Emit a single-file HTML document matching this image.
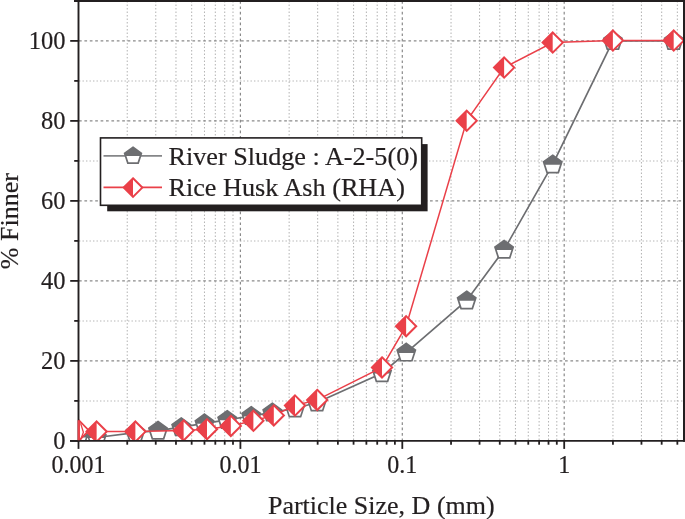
<!DOCTYPE html>
<html><head><meta charset="utf-8"><style>
html,body{margin:0;padding:0;background:#fff;}
body{width:685px;height:519px;overflow:hidden;}
svg{display:block;}
</style></head><body>
<svg width="685" height="519" viewBox="0 0 685 519">
<defs><clipPath id="pc"><rect x="78.5" y="0" width="606" height="440.9"/></clipPath></defs>
<rect width="685" height="519" fill="#fff"/>
<g><line x1="127.24" y1="1" x2="127.24" y2="440" stroke="#b6b6b6" stroke-width="1.05" stroke-dasharray="1.4 2.1"/><line x1="155.75" y1="1" x2="155.75" y2="440" stroke="#b6b6b6" stroke-width="1.05" stroke-dasharray="1.4 2.1"/><line x1="175.97" y1="1" x2="175.97" y2="440" stroke="#b6b6b6" stroke-width="1.05" stroke-dasharray="1.4 2.1"/><line x1="191.66" y1="1" x2="191.66" y2="440" stroke="#b6b6b6" stroke-width="1.05" stroke-dasharray="1.4 2.1"/><line x1="204.48" y1="1" x2="204.48" y2="440" stroke="#b6b6b6" stroke-width="1.05" stroke-dasharray="1.4 2.1"/><line x1="215.32" y1="1" x2="215.32" y2="440" stroke="#b6b6b6" stroke-width="1.05" stroke-dasharray="1.4 2.1"/><line x1="224.71" y1="1" x2="224.71" y2="440" stroke="#b6b6b6" stroke-width="1.05" stroke-dasharray="1.4 2.1"/><line x1="232.99" y1="1" x2="232.99" y2="440" stroke="#b6b6b6" stroke-width="1.05" stroke-dasharray="1.4 2.1"/><line x1="289.14" y1="1" x2="289.14" y2="440" stroke="#b6b6b6" stroke-width="1.05" stroke-dasharray="1.4 2.1"/><line x1="317.65" y1="1" x2="317.65" y2="440" stroke="#b6b6b6" stroke-width="1.05" stroke-dasharray="1.4 2.1"/><line x1="337.87" y1="1" x2="337.87" y2="440" stroke="#b6b6b6" stroke-width="1.05" stroke-dasharray="1.4 2.1"/><line x1="353.56" y1="1" x2="353.56" y2="440" stroke="#b6b6b6" stroke-width="1.05" stroke-dasharray="1.4 2.1"/><line x1="366.38" y1="1" x2="366.38" y2="440" stroke="#b6b6b6" stroke-width="1.05" stroke-dasharray="1.4 2.1"/><line x1="377.22" y1="1" x2="377.22" y2="440" stroke="#b6b6b6" stroke-width="1.05" stroke-dasharray="1.4 2.1"/><line x1="386.61" y1="1" x2="386.61" y2="440" stroke="#b6b6b6" stroke-width="1.05" stroke-dasharray="1.4 2.1"/><line x1="394.89" y1="1" x2="394.89" y2="440" stroke="#b6b6b6" stroke-width="1.05" stroke-dasharray="1.4 2.1"/><line x1="451.04" y1="1" x2="451.04" y2="440" stroke="#b6b6b6" stroke-width="1.05" stroke-dasharray="1.4 2.1"/><line x1="479.55" y1="1" x2="479.55" y2="440" stroke="#b6b6b6" stroke-width="1.05" stroke-dasharray="1.4 2.1"/><line x1="499.77" y1="1" x2="499.77" y2="440" stroke="#b6b6b6" stroke-width="1.05" stroke-dasharray="1.4 2.1"/><line x1="515.46" y1="1" x2="515.46" y2="440" stroke="#b6b6b6" stroke-width="1.05" stroke-dasharray="1.4 2.1"/><line x1="528.28" y1="1" x2="528.28" y2="440" stroke="#b6b6b6" stroke-width="1.05" stroke-dasharray="1.4 2.1"/><line x1="539.12" y1="1" x2="539.12" y2="440" stroke="#b6b6b6" stroke-width="1.05" stroke-dasharray="1.4 2.1"/><line x1="548.51" y1="1" x2="548.51" y2="440" stroke="#b6b6b6" stroke-width="1.05" stroke-dasharray="1.4 2.1"/><line x1="556.79" y1="1" x2="556.79" y2="440" stroke="#b6b6b6" stroke-width="1.05" stroke-dasharray="1.4 2.1"/><line x1="612.94" y1="1" x2="612.94" y2="440" stroke="#b6b6b6" stroke-width="1.05" stroke-dasharray="1.4 2.1"/><line x1="641.45" y1="1" x2="641.45" y2="440" stroke="#b6b6b6" stroke-width="1.05" stroke-dasharray="1.4 2.1"/><line x1="661.67" y1="1" x2="661.67" y2="440" stroke="#b6b6b6" stroke-width="1.05" stroke-dasharray="1.4 2.1"/><line x1="677.36" y1="1" x2="677.36" y2="440" stroke="#b6b6b6" stroke-width="1.05" stroke-dasharray="1.4 2.1"/><line x1="240.40" y1="1" x2="240.40" y2="440" stroke="#8a8a8a" stroke-width="1.2" stroke-dasharray="2.7 2.7"/><line x1="402.30" y1="1" x2="402.30" y2="440" stroke="#8a8a8a" stroke-width="1.2" stroke-dasharray="2.7 2.7"/><line x1="564.20" y1="1" x2="564.20" y2="440" stroke="#8a8a8a" stroke-width="1.2" stroke-dasharray="2.7 2.7"/><line x1="79" y1="400.90" x2="684" y2="400.90" stroke="#b6b6b6" stroke-width="1.05" stroke-dasharray="1.4 2.1"/><line x1="79" y1="320.90" x2="684" y2="320.90" stroke="#b6b6b6" stroke-width="1.05" stroke-dasharray="1.4 2.1"/><line x1="79" y1="240.90" x2="684" y2="240.90" stroke="#b6b6b6" stroke-width="1.05" stroke-dasharray="1.4 2.1"/><line x1="79" y1="160.90" x2="684" y2="160.90" stroke="#b6b6b6" stroke-width="1.05" stroke-dasharray="1.4 2.1"/><line x1="79" y1="80.90" x2="684" y2="80.90" stroke="#b6b6b6" stroke-width="1.05" stroke-dasharray="1.4 2.1"/><line x1="79" y1="360.90" x2="684" y2="360.90" stroke="#8a8a8a" stroke-width="1.2" stroke-dasharray="2.7 2.7"/><line x1="79" y1="280.90" x2="684" y2="280.90" stroke="#8a8a8a" stroke-width="1.2" stroke-dasharray="2.7 2.7"/><line x1="79" y1="200.90" x2="684" y2="200.90" stroke="#8a8a8a" stroke-width="1.2" stroke-dasharray="2.7 2.7"/><line x1="79" y1="120.90" x2="684" y2="120.90" stroke="#8a8a8a" stroke-width="1.2" stroke-dasharray="2.7 2.7"/><line x1="79" y1="40.90" x2="684" y2="40.90" stroke="#8a8a8a" stroke-width="1.2" stroke-dasharray="2.7 2.7"/></g>
<g clip-path="url(#pc)"><polyline points="78.5,437.0 96.8,437.5 135.4,432.6 158.0,430.7 181.2,427.2 204.5,423.3 227.2,419.9 251.2,416.0 272.3,412.4 295.0,408.5 317.0,402.5 382.0,373.2 406.3,352.6 466.7,300.4 504.1,249.7 552.7,164.4 612.9,40.9 673.7,40.9" fill="none" stroke="#6d6e71" stroke-width="1.7"/><polygon points="78.50,427.80 87.63,434.43 84.14,445.17 72.86,445.17 69.37,434.43" fill="#fff" stroke="none"/><polygon points="78.50,427.80 87.63,434.43 86.67,437.40 70.33,437.40 69.37,434.43" fill="#6d6e71"/><polygon points="78.50,427.80 87.63,434.43 84.14,445.17 72.86,445.17 69.37,434.43" fill="none" stroke="#6d6e71" stroke-width="1.7" stroke-linejoin="miter"/><polygon points="96.80,428.30 105.93,434.93 102.44,445.67 91.16,445.67 87.67,434.93" fill="#fff" stroke="none"/><polygon points="96.80,428.30 105.93,434.93 104.97,437.90 88.63,437.90 87.67,434.93" fill="#6d6e71"/><polygon points="96.80,428.30 105.93,434.93 102.44,445.67 91.16,445.67 87.67,434.93" fill="none" stroke="#6d6e71" stroke-width="1.7" stroke-linejoin="miter"/><polygon points="135.40,423.40 144.53,430.03 141.04,440.77 129.76,440.77 126.27,430.03" fill="#fff" stroke="none"/><polygon points="135.40,423.40 144.53,430.03 143.57,433.00 127.23,433.00 126.27,430.03" fill="#6d6e71"/><polygon points="135.40,423.40 144.53,430.03 141.04,440.77 129.76,440.77 126.27,430.03" fill="none" stroke="#6d6e71" stroke-width="1.7" stroke-linejoin="miter"/><polygon points="158.00,421.50 167.13,428.13 163.64,438.87 152.36,438.87 148.87,428.13" fill="#fff" stroke="none"/><polygon points="158.00,421.50 167.13,428.13 166.17,431.10 149.83,431.10 148.87,428.13" fill="#6d6e71"/><polygon points="158.00,421.50 167.13,428.13 163.64,438.87 152.36,438.87 148.87,428.13" fill="none" stroke="#6d6e71" stroke-width="1.7" stroke-linejoin="miter"/><polygon points="181.20,418.00 190.33,424.63 186.84,435.37 175.56,435.37 172.07,424.63" fill="#fff" stroke="none"/><polygon points="181.20,418.00 190.33,424.63 189.37,427.60 173.03,427.60 172.07,424.63" fill="#6d6e71"/><polygon points="181.20,418.00 190.33,424.63 186.84,435.37 175.56,435.37 172.07,424.63" fill="none" stroke="#6d6e71" stroke-width="1.7" stroke-linejoin="miter"/><polygon points="204.50,414.10 213.63,420.73 210.14,431.47 198.86,431.47 195.37,420.73" fill="#fff" stroke="none"/><polygon points="204.50,414.10 213.63,420.73 212.67,423.70 196.33,423.70 195.37,420.73" fill="#6d6e71"/><polygon points="204.50,414.10 213.63,420.73 210.14,431.47 198.86,431.47 195.37,420.73" fill="none" stroke="#6d6e71" stroke-width="1.7" stroke-linejoin="miter"/><polygon points="227.20,410.70 236.33,417.33 232.84,428.07 221.56,428.07 218.07,417.33" fill="#fff" stroke="none"/><polygon points="227.20,410.70 236.33,417.33 235.37,420.30 219.03,420.30 218.07,417.33" fill="#6d6e71"/><polygon points="227.20,410.70 236.33,417.33 232.84,428.07 221.56,428.07 218.07,417.33" fill="none" stroke="#6d6e71" stroke-width="1.7" stroke-linejoin="miter"/><polygon points="251.20,406.80 260.33,413.43 256.84,424.17 245.56,424.17 242.07,413.43" fill="#fff" stroke="none"/><polygon points="251.20,406.80 260.33,413.43 259.37,416.40 243.03,416.40 242.07,413.43" fill="#6d6e71"/><polygon points="251.20,406.80 260.33,413.43 256.84,424.17 245.56,424.17 242.07,413.43" fill="none" stroke="#6d6e71" stroke-width="1.7" stroke-linejoin="miter"/><polygon points="272.30,403.20 281.43,409.83 277.94,420.57 266.66,420.57 263.17,409.83" fill="#fff" stroke="none"/><polygon points="272.30,403.20 281.43,409.83 280.47,412.80 264.13,412.80 263.17,409.83" fill="#6d6e71"/><polygon points="272.30,403.20 281.43,409.83 277.94,420.57 266.66,420.57 263.17,409.83" fill="none" stroke="#6d6e71" stroke-width="1.7" stroke-linejoin="miter"/><polygon points="295.00,399.30 304.13,405.93 300.64,416.67 289.36,416.67 285.87,405.93" fill="#fff" stroke="none"/><polygon points="295.00,399.30 304.13,405.93 303.17,408.90 286.83,408.90 285.87,405.93" fill="#6d6e71"/><polygon points="295.00,399.30 304.13,405.93 300.64,416.67 289.36,416.67 285.87,405.93" fill="none" stroke="#6d6e71" stroke-width="1.7" stroke-linejoin="miter"/><polygon points="317.00,393.30 326.13,399.93 322.64,410.67 311.36,410.67 307.87,399.93" fill="#fff" stroke="none"/><polygon points="317.00,393.30 326.13,399.93 325.17,402.90 308.83,402.90 307.87,399.93" fill="#6d6e71"/><polygon points="317.00,393.30 326.13,399.93 322.64,410.67 311.36,410.67 307.87,399.93" fill="none" stroke="#6d6e71" stroke-width="1.7" stroke-linejoin="miter"/><polygon points="382.00,364.00 391.13,370.63 387.64,381.37 376.36,381.37 372.87,370.63" fill="#fff" stroke="none"/><polygon points="382.00,364.00 391.13,370.63 390.17,373.60 373.83,373.60 372.87,370.63" fill="#6d6e71"/><polygon points="382.00,364.00 391.13,370.63 387.64,381.37 376.36,381.37 372.87,370.63" fill="none" stroke="#6d6e71" stroke-width="1.7" stroke-linejoin="miter"/><polygon points="406.30,343.40 415.43,350.03 411.94,360.77 400.66,360.77 397.17,350.03" fill="#fff" stroke="none"/><polygon points="406.30,343.40 415.43,350.03 414.47,353.00 398.13,353.00 397.17,350.03" fill="#6d6e71"/><polygon points="406.30,343.40 415.43,350.03 411.94,360.77 400.66,360.77 397.17,350.03" fill="none" stroke="#6d6e71" stroke-width="1.7" stroke-linejoin="miter"/><polygon points="466.70,291.20 475.83,297.83 472.34,308.57 461.06,308.57 457.57,297.83" fill="#fff" stroke="none"/><polygon points="466.70,291.20 475.83,297.83 474.87,300.80 458.53,300.80 457.57,297.83" fill="#6d6e71"/><polygon points="466.70,291.20 475.83,297.83 472.34,308.57 461.06,308.57 457.57,297.83" fill="none" stroke="#6d6e71" stroke-width="1.7" stroke-linejoin="miter"/><polygon points="504.10,240.50 513.23,247.13 509.74,257.87 498.46,257.87 494.97,247.13" fill="#fff" stroke="none"/><polygon points="504.10,240.50 513.23,247.13 512.27,250.10 495.93,250.10 494.97,247.13" fill="#6d6e71"/><polygon points="504.10,240.50 513.23,247.13 509.74,257.87 498.46,257.87 494.97,247.13" fill="none" stroke="#6d6e71" stroke-width="1.7" stroke-linejoin="miter"/><polygon points="552.70,155.20 561.83,161.83 558.34,172.57 547.06,172.57 543.57,161.83" fill="#fff" stroke="none"/><polygon points="552.70,155.20 561.83,161.83 560.87,164.80 544.53,164.80 543.57,161.83" fill="#6d6e71"/><polygon points="552.70,155.20 561.83,161.83 558.34,172.57 547.06,172.57 543.57,161.83" fill="none" stroke="#6d6e71" stroke-width="1.7" stroke-linejoin="miter"/><polygon points="612.90,31.70 622.03,38.33 618.54,49.07 607.26,49.07 603.77,38.33" fill="#fff" stroke="none"/><polygon points="612.90,31.70 622.03,38.33 621.07,41.30 604.73,41.30 603.77,38.33" fill="#6d6e71"/><polygon points="612.90,31.70 622.03,38.33 618.54,49.07 607.26,49.07 603.77,38.33" fill="none" stroke="#6d6e71" stroke-width="1.7" stroke-linejoin="miter"/><polygon points="673.70,31.70 682.83,38.33 679.34,49.07 668.06,49.07 664.57,38.33" fill="#fff" stroke="none"/><polygon points="673.70,31.70 682.83,38.33 681.87,41.30 665.53,41.30 664.57,38.33" fill="#6d6e71"/><polygon points="673.70,31.70 682.83,38.33 679.34,49.07 668.06,49.07 664.57,38.33" fill="none" stroke="#6d6e71" stroke-width="1.7" stroke-linejoin="miter"/><polyline points="78.5,430.5 96.6,431.6 135.4,431.6 183.6,430.4 207.0,429.2 230.8,425.9 253.4,420.8 273.8,415.4 295.0,405.5 317.2,399.9 382.0,367.4 406.1,326.2 466.7,120.8 504.1,67.6 552.7,42.6 612.9,40.6 673.7,40.6" fill="none" stroke="#ea4049" stroke-width="1.5"/><polygon points="78.5,419.8 88.8,430.4 78.5,441.2" fill="#fff" stroke="#ea4049" stroke-width="1.8"/><polyline points="80.6,423.2 83.4,432.3 80.6,439.8" fill="none" stroke="#ea4049" stroke-width="1.3"/><polygon points="96.60,421.50 106.70,431.60 96.60,441.70 86.50,431.60" fill="#fff"/><polygon points="96.60,421.50 96.60,441.70 86.50,431.60" fill="#ea4049"/><polygon points="96.60,421.50 106.70,431.60 96.60,441.70 86.50,431.60" fill="none" stroke="#ea4049" stroke-width="2.0"/><polygon points="135.40,421.50 145.50,431.60 135.40,441.70 125.30,431.60" fill="#fff"/><polygon points="135.40,421.50 135.40,441.70 125.30,431.60" fill="#ea4049"/><polygon points="135.40,421.50 145.50,431.60 135.40,441.70 125.30,431.60" fill="none" stroke="#ea4049" stroke-width="2.0"/><polygon points="183.60,420.30 193.70,430.40 183.60,440.50 173.50,430.40" fill="#fff"/><polygon points="183.60,420.30 183.60,440.50 173.50,430.40" fill="#ea4049"/><polygon points="183.60,420.30 193.70,430.40 183.60,440.50 173.50,430.40" fill="none" stroke="#ea4049" stroke-width="2.0"/><polygon points="207.00,419.10 217.10,429.20 207.00,439.30 196.90,429.20" fill="#fff"/><polygon points="207.00,419.10 207.00,439.30 196.90,429.20" fill="#ea4049"/><polygon points="207.00,419.10 217.10,429.20 207.00,439.30 196.90,429.20" fill="none" stroke="#ea4049" stroke-width="2.0"/><polygon points="230.80,415.80 240.90,425.90 230.80,436.00 220.70,425.90" fill="#fff"/><polygon points="230.80,415.80 230.80,436.00 220.70,425.90" fill="#ea4049"/><polygon points="230.80,415.80 240.90,425.90 230.80,436.00 220.70,425.90" fill="none" stroke="#ea4049" stroke-width="2.0"/><polygon points="253.40,410.70 263.50,420.80 253.40,430.90 243.30,420.80" fill="#fff"/><polygon points="253.40,410.70 253.40,430.90 243.30,420.80" fill="#ea4049"/><polygon points="253.40,410.70 263.50,420.80 253.40,430.90 243.30,420.80" fill="none" stroke="#ea4049" stroke-width="2.0"/><polygon points="273.80,405.30 283.90,415.40 273.80,425.50 263.70,415.40" fill="#fff"/><polygon points="273.80,405.30 273.80,425.50 263.70,415.40" fill="#ea4049"/><polygon points="273.80,405.30 283.90,415.40 273.80,425.50 263.70,415.40" fill="none" stroke="#ea4049" stroke-width="2.0"/><polygon points="295.00,395.40 305.10,405.50 295.00,415.60 284.90,405.50" fill="#fff"/><polygon points="295.00,395.40 295.00,415.60 284.90,405.50" fill="#ea4049"/><polygon points="295.00,395.40 305.10,405.50 295.00,415.60 284.90,405.50" fill="none" stroke="#ea4049" stroke-width="2.0"/><polygon points="317.20,389.80 327.30,399.90 317.20,410.00 307.10,399.90" fill="#fff"/><polygon points="317.20,389.80 317.20,410.00 307.10,399.90" fill="#ea4049"/><polygon points="317.20,389.80 327.30,399.90 317.20,410.00 307.10,399.90" fill="none" stroke="#ea4049" stroke-width="2.0"/><polygon points="382.00,357.30 392.10,367.40 382.00,377.50 371.90,367.40" fill="#fff"/><polygon points="382.00,357.30 382.00,377.50 371.90,367.40" fill="#ea4049"/><polygon points="382.00,357.30 392.10,367.40 382.00,377.50 371.90,367.40" fill="none" stroke="#ea4049" stroke-width="2.0"/><polygon points="406.10,316.10 416.20,326.20 406.10,336.30 396.00,326.20" fill="#fff"/><polygon points="406.10,316.10 406.10,336.30 396.00,326.20" fill="#ea4049"/><polygon points="406.10,316.10 416.20,326.20 406.10,336.30 396.00,326.20" fill="none" stroke="#ea4049" stroke-width="2.0"/><polygon points="466.70,110.70 476.80,120.80 466.70,130.90 456.60,120.80" fill="#fff"/><polygon points="466.70,110.70 466.70,130.90 456.60,120.80" fill="#ea4049"/><polygon points="466.70,110.70 476.80,120.80 466.70,130.90 456.60,120.80" fill="none" stroke="#ea4049" stroke-width="2.0"/><polygon points="504.10,57.50 514.20,67.60 504.10,77.70 494.00,67.60" fill="#fff"/><polygon points="504.10,57.50 504.10,77.70 494.00,67.60" fill="#ea4049"/><polygon points="504.10,57.50 514.20,67.60 504.10,77.70 494.00,67.60" fill="none" stroke="#ea4049" stroke-width="2.0"/><polygon points="552.70,32.50 562.80,42.60 552.70,52.70 542.60,42.60" fill="#fff"/><polygon points="552.70,32.50 552.70,52.70 542.60,42.60" fill="#ea4049"/><polygon points="552.70,32.50 562.80,42.60 552.70,52.70 542.60,42.60" fill="none" stroke="#ea4049" stroke-width="2.0"/><polygon points="612.90,30.50 623.00,40.60 612.90,50.70 602.80,40.60" fill="#fff"/><polygon points="612.90,30.50 612.90,50.70 602.80,40.60" fill="#ea4049"/><polygon points="612.90,30.50 623.00,40.60 612.90,50.70 602.80,40.60" fill="none" stroke="#ea4049" stroke-width="2.0"/><polygon points="673.70,30.50 683.80,40.60 673.70,50.70 663.60,40.60" fill="#fff"/><polygon points="673.70,30.50 673.70,50.70 663.60,40.60" fill="#ea4049"/><polygon points="673.70,30.50 683.80,40.60 673.70,50.70 663.60,40.60" fill="none" stroke="#ea4049" stroke-width="2.0"/></g>
<line x1="74" y1="0.95" x2="685" y2="0.95" stroke="#231f20" stroke-width="1.9"/><line x1="684" y1="0" x2="684" y2="441.8" stroke="#231f20" stroke-width="2"/><line x1="78.5" y1="0" x2="78.5" y2="441.8" stroke="#231f20" stroke-width="1.9"/><line x1="70" y1="440.9" x2="685" y2="440.9" stroke="#231f20" stroke-width="1.9"/><line x1="70.20" y1="440.90" x2="78.5" y2="440.90" stroke="#231f20" stroke-width="1.8"/><line x1="74.20" y1="400.90" x2="78.5" y2="400.90" stroke="#231f20" stroke-width="1.8"/><line x1="70.20" y1="360.90" x2="78.5" y2="360.90" stroke="#231f20" stroke-width="1.8"/><line x1="74.20" y1="320.90" x2="78.5" y2="320.90" stroke="#231f20" stroke-width="1.8"/><line x1="70.20" y1="280.90" x2="78.5" y2="280.90" stroke="#231f20" stroke-width="1.8"/><line x1="74.20" y1="240.90" x2="78.5" y2="240.90" stroke="#231f20" stroke-width="1.8"/><line x1="70.20" y1="200.90" x2="78.5" y2="200.90" stroke="#231f20" stroke-width="1.8"/><line x1="74.20" y1="160.90" x2="78.5" y2="160.90" stroke="#231f20" stroke-width="1.8"/><line x1="70.20" y1="120.90" x2="78.5" y2="120.90" stroke="#231f20" stroke-width="1.8"/><line x1="74.20" y1="80.90" x2="78.5" y2="80.90" stroke="#231f20" stroke-width="1.8"/><line x1="70.20" y1="40.90" x2="78.5" y2="40.90" stroke="#231f20" stroke-width="1.8"/><line x1="74.20" y1="0.90" x2="78.5" y2="0.90" stroke="#231f20" stroke-width="1.8"/><line x1="78.50" y1="440.9" x2="78.50" y2="448.90" stroke="#231f20" stroke-width="1.8"/><line x1="127.24" y1="440.9" x2="127.24" y2="444.70" stroke="#231f20" stroke-width="1.8"/><line x1="155.75" y1="440.9" x2="155.75" y2="444.70" stroke="#231f20" stroke-width="1.8"/><line x1="175.97" y1="440.9" x2="175.97" y2="444.70" stroke="#231f20" stroke-width="1.8"/><line x1="191.66" y1="440.9" x2="191.66" y2="444.70" stroke="#231f20" stroke-width="1.8"/><line x1="204.48" y1="440.9" x2="204.48" y2="444.70" stroke="#231f20" stroke-width="1.8"/><line x1="215.32" y1="440.9" x2="215.32" y2="444.70" stroke="#231f20" stroke-width="1.8"/><line x1="224.71" y1="440.9" x2="224.71" y2="444.70" stroke="#231f20" stroke-width="1.8"/><line x1="232.99" y1="440.9" x2="232.99" y2="444.70" stroke="#231f20" stroke-width="1.8"/><line x1="240.40" y1="440.9" x2="240.40" y2="448.90" stroke="#231f20" stroke-width="1.8"/><line x1="289.14" y1="440.9" x2="289.14" y2="444.70" stroke="#231f20" stroke-width="1.8"/><line x1="317.65" y1="440.9" x2="317.65" y2="444.70" stroke="#231f20" stroke-width="1.8"/><line x1="337.87" y1="440.9" x2="337.87" y2="444.70" stroke="#231f20" stroke-width="1.8"/><line x1="353.56" y1="440.9" x2="353.56" y2="444.70" stroke="#231f20" stroke-width="1.8"/><line x1="366.38" y1="440.9" x2="366.38" y2="444.70" stroke="#231f20" stroke-width="1.8"/><line x1="377.22" y1="440.9" x2="377.22" y2="444.70" stroke="#231f20" stroke-width="1.8"/><line x1="386.61" y1="440.9" x2="386.61" y2="444.70" stroke="#231f20" stroke-width="1.8"/><line x1="394.89" y1="440.9" x2="394.89" y2="444.70" stroke="#231f20" stroke-width="1.8"/><line x1="402.30" y1="440.9" x2="402.30" y2="448.90" stroke="#231f20" stroke-width="1.8"/><line x1="451.04" y1="440.9" x2="451.04" y2="444.70" stroke="#231f20" stroke-width="1.8"/><line x1="479.55" y1="440.9" x2="479.55" y2="444.70" stroke="#231f20" stroke-width="1.8"/><line x1="499.77" y1="440.9" x2="499.77" y2="444.70" stroke="#231f20" stroke-width="1.8"/><line x1="515.46" y1="440.9" x2="515.46" y2="444.70" stroke="#231f20" stroke-width="1.8"/><line x1="528.28" y1="440.9" x2="528.28" y2="444.70" stroke="#231f20" stroke-width="1.8"/><line x1="539.12" y1="440.9" x2="539.12" y2="444.70" stroke="#231f20" stroke-width="1.8"/><line x1="548.51" y1="440.9" x2="548.51" y2="444.70" stroke="#231f20" stroke-width="1.8"/><line x1="556.79" y1="440.9" x2="556.79" y2="444.70" stroke="#231f20" stroke-width="1.8"/><line x1="564.20" y1="440.9" x2="564.20" y2="448.90" stroke="#231f20" stroke-width="1.8"/><line x1="612.94" y1="440.9" x2="612.94" y2="444.70" stroke="#231f20" stroke-width="1.8"/><line x1="641.45" y1="440.9" x2="641.45" y2="444.70" stroke="#231f20" stroke-width="1.8"/><line x1="661.67" y1="440.9" x2="661.67" y2="444.70" stroke="#231f20" stroke-width="1.8"/><line x1="677.36" y1="440.9" x2="677.36" y2="444.70" stroke="#231f20" stroke-width="1.8"/>
<rect x="77.6" y="420.2" width="2.3" height="20" fill="#ea4049"/>
<text transform="translate(65.5 448.60) scale(0.98 1)" text-anchor="end" font-size="25" font-family="Liberation Serif, Times New Roman, serif" stroke="#231f20" stroke-width="0.2" fill="#231f20">0</text><text transform="translate(65.5 368.60) scale(0.98 1)" text-anchor="end" font-size="25" font-family="Liberation Serif, Times New Roman, serif" stroke="#231f20" stroke-width="0.2" fill="#231f20">20</text><text transform="translate(65.5 288.60) scale(0.98 1)" text-anchor="end" font-size="25" font-family="Liberation Serif, Times New Roman, serif" stroke="#231f20" stroke-width="0.2" fill="#231f20">40</text><text transform="translate(65.5 208.60) scale(0.98 1)" text-anchor="end" font-size="25" font-family="Liberation Serif, Times New Roman, serif" stroke="#231f20" stroke-width="0.2" fill="#231f20">60</text><text transform="translate(65.5 128.60) scale(0.98 1)" text-anchor="end" font-size="25" font-family="Liberation Serif, Times New Roman, serif" stroke="#231f20" stroke-width="0.2" fill="#231f20">80</text><text transform="translate(65.5 48.60) scale(0.98 1)" text-anchor="end" font-size="25" font-family="Liberation Serif, Times New Roman, serif" stroke="#231f20" stroke-width="0.2" fill="#231f20">100</text><text transform="translate(78.50 473.2) scale(0.96 1)" text-anchor="middle" font-size="25" font-family="Liberation Serif, Times New Roman, serif" stroke="#231f20" stroke-width="0.2" fill="#231f20">0.001</text><text transform="translate(240.40 473.2) scale(0.96 1)" text-anchor="middle" font-size="25" font-family="Liberation Serif, Times New Roman, serif" stroke="#231f20" stroke-width="0.2" fill="#231f20">0.01</text><text transform="translate(402.30 473.2) scale(0.96 1)" text-anchor="middle" font-size="25" font-family="Liberation Serif, Times New Roman, serif" stroke="#231f20" stroke-width="0.2" fill="#231f20">0.1</text><text transform="translate(564.20 473.2) scale(0.96 1)" text-anchor="middle" font-size="25" font-family="Liberation Serif, Times New Roman, serif" stroke="#231f20" stroke-width="0.2" fill="#231f20">1</text><text x="381.3" y="514.2" text-anchor="middle" font-size="26" font-family="Liberation Serif, Times New Roman, serif" stroke="#231f20" stroke-width="0.2" fill="#231f20">Particle Size, D (mm)</text><text transform="translate(18.4 221.2) rotate(-90)" x="0" y="0" text-anchor="middle" font-size="26" font-family="Liberation Serif, Times New Roman, serif" stroke="#231f20" stroke-width="0.2" fill="#231f20">% Finner</text>
<rect x="107.2" y="144.1" width="320.4" height="67.2" fill="#231f20"/><rect x="100.5" y="137.9" width="321.2" height="67.4" fill="#fff" stroke="#231f20" stroke-width="1.6"/><line x1="103.5" y1="155.9" x2="162" y2="155.9" stroke="#858688" stroke-width="1.7"/><polygon points="133.00,147.20 141.37,153.28 138.17,163.12 127.83,163.12 124.63,153.28" fill="#fff" stroke="none"/><polygon points="133.00,147.20 141.37,153.28 140.49,156.00 125.51,156.00 124.63,153.28" fill="#6d6e71"/><polygon points="133.00,147.20 141.37,153.28 138.17,163.12 127.83,163.12 124.63,153.28" fill="none" stroke="#6d6e71" stroke-width="1.7" stroke-linejoin="miter"/><line x1="103.5" y1="187.4" x2="162" y2="187.4" stroke="#ea4049" stroke-width="1.8"/><polygon points="133.00,178.30 142.30,187.60 133.00,196.90 123.70,187.60" fill="#fff"/><polygon points="133.00,178.30 133.00,196.90 123.70,187.60" fill="#ea4049"/><polygon points="133.00,178.30 142.30,187.60 133.00,196.90 123.70,187.60" fill="none" stroke="#ea4049" stroke-width="2.0"/><text x="168.5" y="164.5" font-size="26.2" font-family="Liberation Serif, Times New Roman, serif" stroke="#231f20" stroke-width="0.2" fill="#231f20">River Sludge : A-2-5(0)</text><text x="168.5" y="196.3" font-size="26.2" font-family="Liberation Serif, Times New Roman, serif" stroke="#231f20" stroke-width="0.2" fill="#231f20">Rice Husk Ash (RHA)</text>
</svg>
</body></html>
